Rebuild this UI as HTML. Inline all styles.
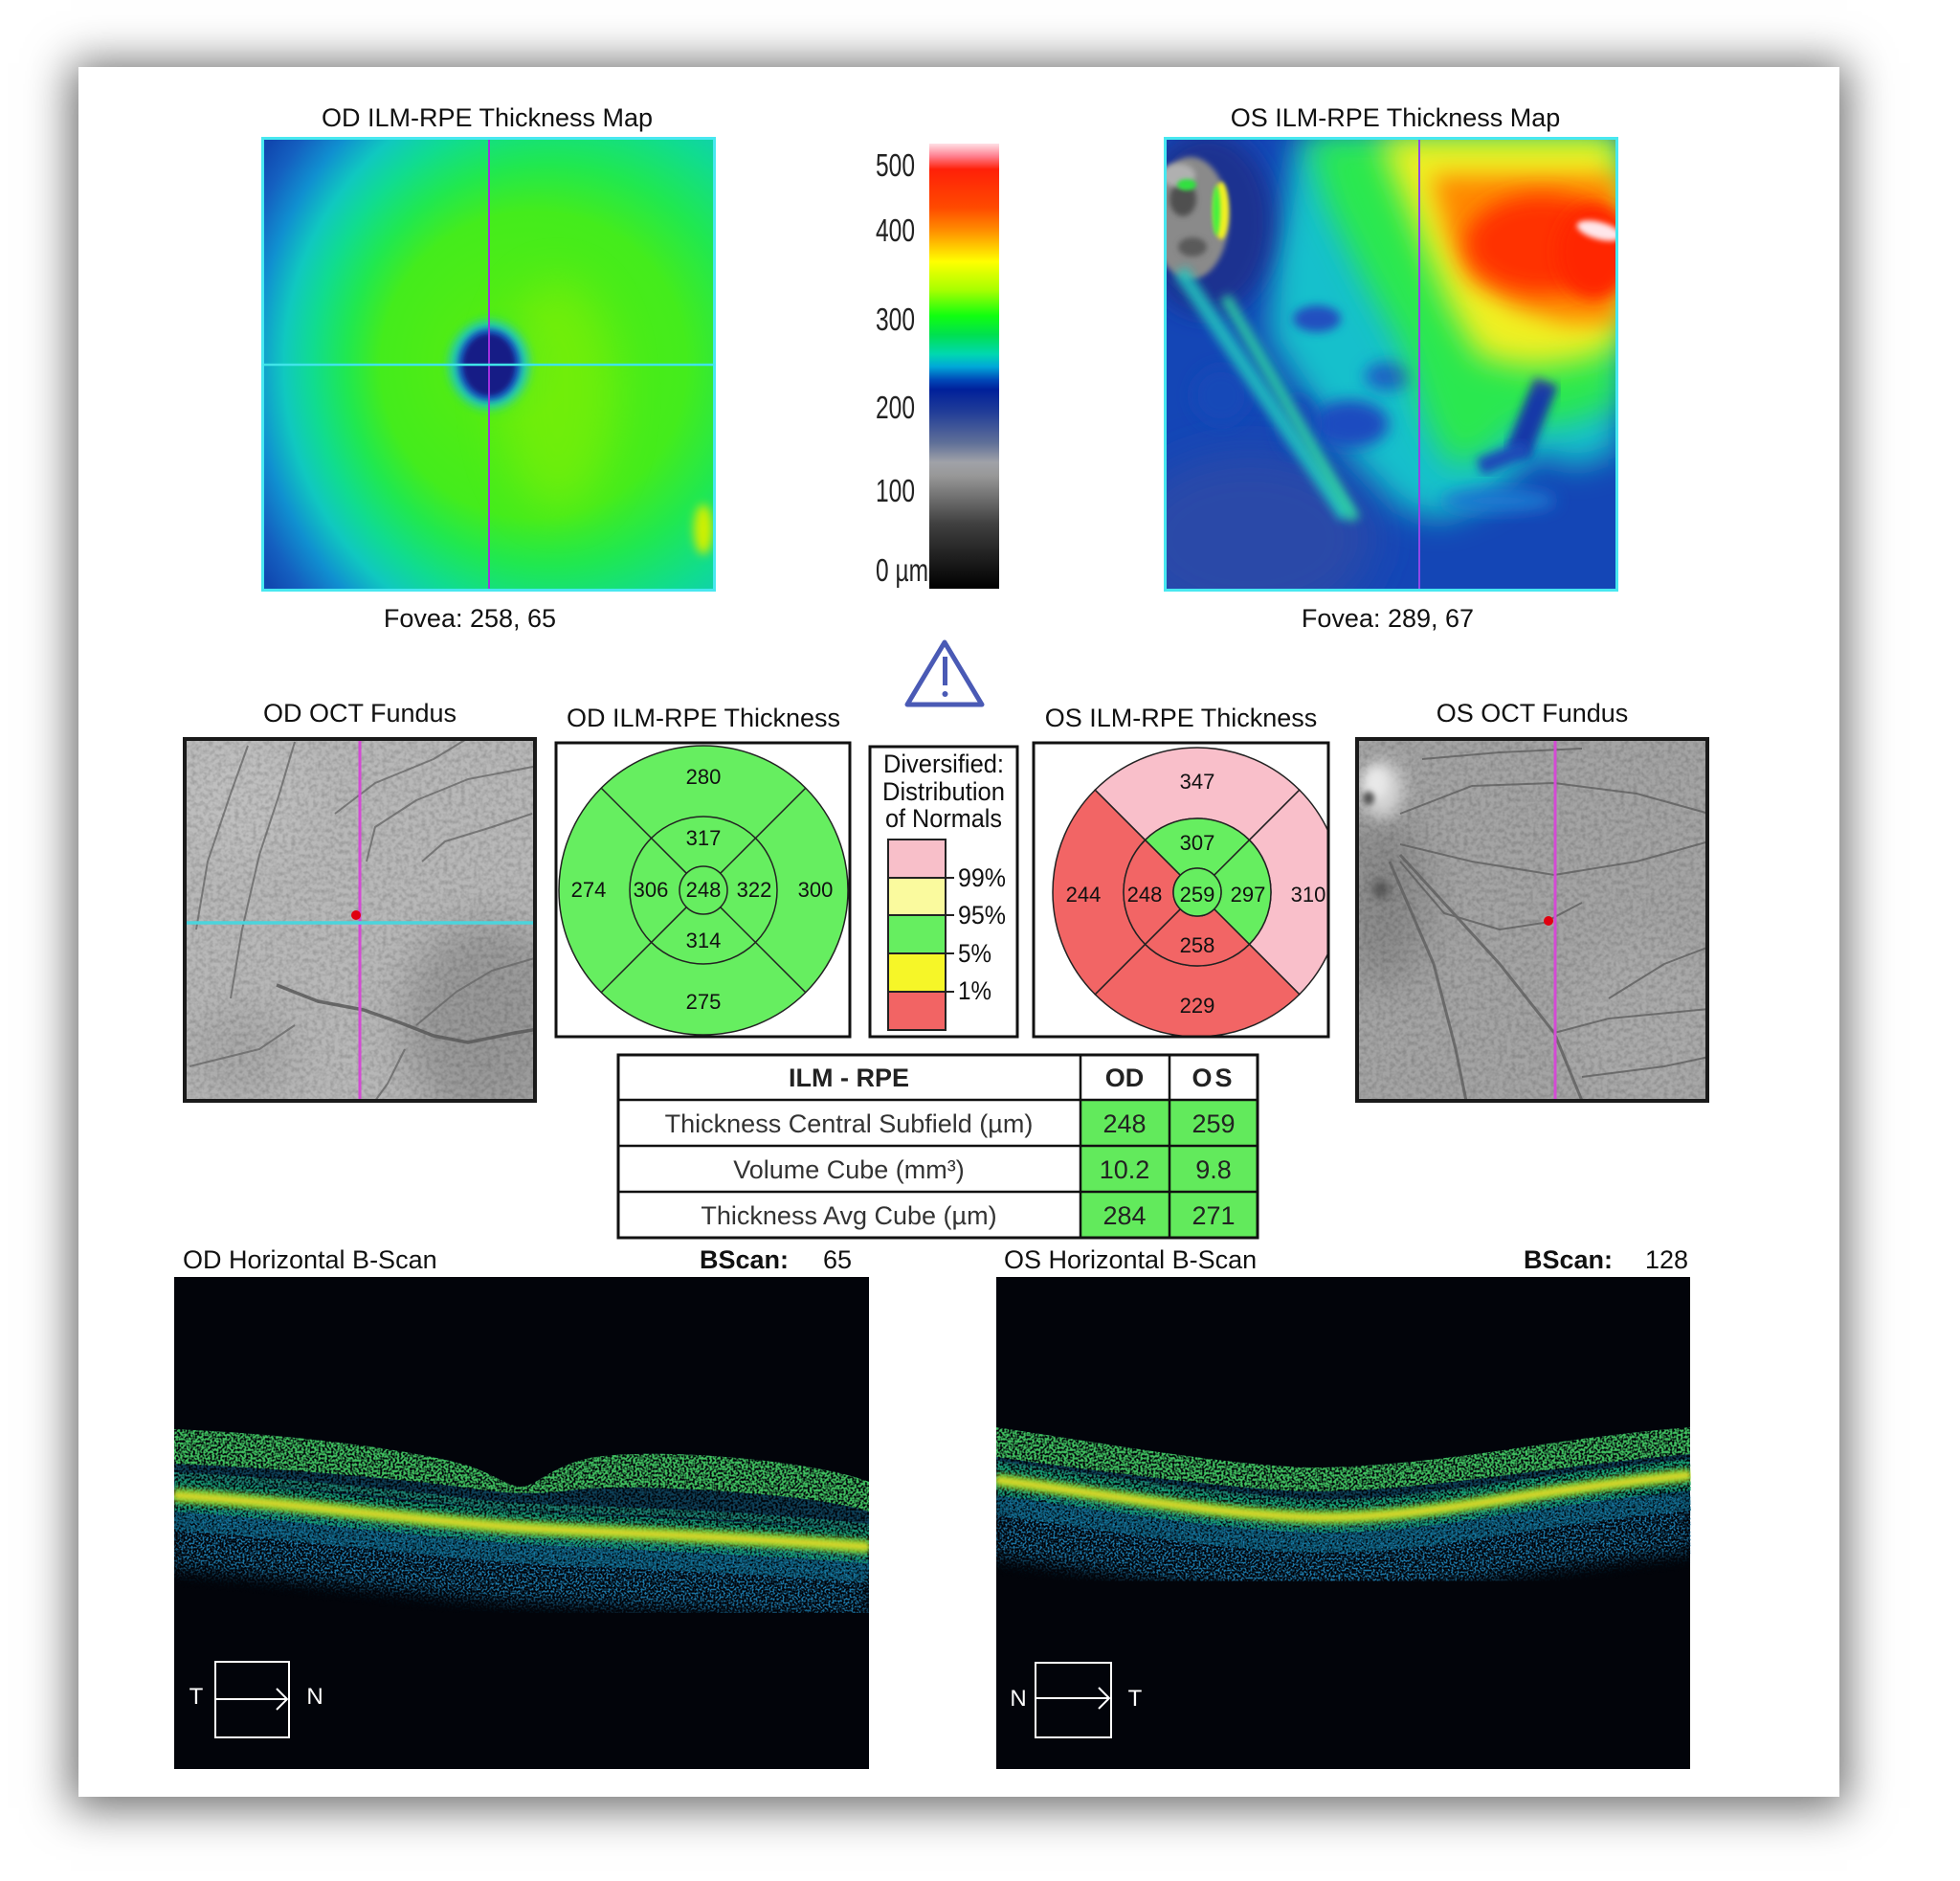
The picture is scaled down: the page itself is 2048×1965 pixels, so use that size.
<!DOCTYPE html>
<html><head><meta charset="utf-8"><style>
html,body{margin:0;padding:0;background:#fff;}
body{width:2048px;height:1965px;position:relative;overflow:hidden;}
#card{position:absolute;left:82px;top:70px;width:1840px;height:1807px;background:#fff;box-shadow:0 4px 44px 8px rgba(0,0,0,0.58);}
svg{position:absolute;left:0;top:0;}
text{font-family:"Liberation Sans",Arial,sans-serif;}
</style></head><body>
<div id="card"></div>
<svg width="2048" height="1965" viewBox="0 0 2048 1965" xmlns="http://www.w3.org/2000/svg">
<defs>
<filter id="b2" x="-50%" y="-50%" width="200%" height="200%"><feGaussianBlur stdDeviation="2"/></filter>
<filter id="b3" x="-50%" y="-50%" width="200%" height="200%"><feGaussianBlur stdDeviation="3"/></filter>
<filter id="b5" x="-50%" y="-50%" width="200%" height="200%"><feGaussianBlur stdDeviation="5"/></filter>
<filter id="b8" x="-50%" y="-50%" width="200%" height="200%"><feGaussianBlur stdDeviation="8"/></filter>
<filter id="b12" x="-50%" y="-50%" width="200%" height="200%"><feGaussianBlur stdDeviation="12"/></filter>
<filter id="b16" x="-50%" y="-50%" width="200%" height="200%"><feGaussianBlur stdDeviation="16"/></filter>
<filter id="b20" x="-50%" y="-50%" width="200%" height="200%"><feGaussianBlur stdDeviation="20"/></filter>
<filter id="b22" x="-50%" y="-50%" width="200%" height="200%"><feGaussianBlur stdDeviation="22"/></filter>
<filter id="grain" x="0" y="0" width="1" height="1">
 <feTurbulence type="fractalNoise" baseFrequency="0.22" numOctaves="2" seed="11"/>
 <feColorMatrix type="matrix" values="0 0 0 0 0  0 0 0 0 0  0 0 0 0 0  -1.0 0 0 0 0.62"/>
</filter>
<filter id="speck" x="0" y="0" width="1" height="1">
 <feTurbulence type="fractalNoise" baseFrequency="0.45" numOctaves="1" seed="7" result="n"/>
 <feColorMatrix in="n" type="matrix" values="0 0 0 0 1  0 0 0 0 1  0 0 0 0 1  0 0 0 4 -1.4" result="m"/>
 <feComposite in="SourceGraphic" in2="m" operator="in"/>
</filter>
<filter id="speck2" x="0" y="0" width="1" height="1">
 <feTurbulence type="fractalNoise" baseFrequency="0.5" numOctaves="1" seed="19" result="n"/>
 <feColorMatrix in="n" type="matrix" values="0 0 0 0 1  0 0 0 0 1  0 0 0 0 1  0 0 0 5 -2.2" result="m"/>
 <feComposite in="SourceGraphic" in2="m" operator="in"/>
</filter>
<radialGradient id="odgrad" gradientUnits="userSpaceOnUse" cx="360" cy="238" r="420" fx="238" fy="238">
 <stop offset="0" stop-color="#30e830"/>
 <stop offset="0.15" stop-color="#50ec14"/>
 <stop offset="0.38" stop-color="#44ec1c"/>
 <stop offset="0.5" stop-color="#20e850"/>
 <stop offset="0.62" stop-color="#10dc90"/>
 <stop offset="0.72" stop-color="#10c8c0"/>
 <stop offset="0.82" stop-color="#1090d0"/>
 <stop offset="0.92" stop-color="#1460c0"/>
 <stop offset="1" stop-color="#1048b0"/>
</radialGradient>
<linearGradient id="cbar" x1="0" y1="0" x2="0" y2="1">
 <stop offset="0" stop-color="#ffe0e6"/>
 <stop offset="0.028" stop-color="#ff8090"/>
 <stop offset="0.058" stop-color="#ff2008"/>
 <stop offset="0.144" stop-color="#ff4a00"/>
 <stop offset="0.194" stop-color="#ff8c00"/>
 <stop offset="0.265" stop-color="#ffff00"/>
 <stop offset="0.329" stop-color="#a8ff00"/>
 <stop offset="0.387" stop-color="#10ff10"/>
 <stop offset="0.43" stop-color="#00e050"/>
 <stop offset="0.473" stop-color="#00d8b0"/>
 <stop offset="0.501" stop-color="#00a8d8"/>
 <stop offset="0.531" stop-color="#0048b8"/>
 <stop offset="0.553" stop-color="#00209a"/>
 <stop offset="0.602" stop-color="#203c98"/>
 <stop offset="0.673" stop-color="#607098"/>
 <stop offset="0.716" stop-color="#a0a2a8"/>
 <stop offset="0.746" stop-color="#989898"/>
 <stop offset="0.854" stop-color="#404040"/>
 <stop offset="1" stop-color="#000000"/>
</linearGradient>
<clipPath id="mapclip"><rect x="0" y="0" width="475" height="475"/></clipPath>
<clipPath id="fclip"><rect x="0" y="0" width="370" height="382"/></clipPath>
<clipPath id="bclip"><rect x="0" y="0" width="726" height="514"/></clipPath>
<clipPath id="osboxclip"><rect x="1080" y="776" width="308" height="307"/></clipPath>
</defs>

<!-- ===== Top titles ===== -->
<g fill="#111" font-size="27" text-anchor="middle">
 <text x="509" y="132">OD ILM-RPE Thickness Map</text>
 <text x="1458" y="132">OS ILM-RPE Thickness Map</text>
 <text x="491" y="655">Fovea: 258, 65</text>
 <text x="1450" y="655">Fovea: 289, 67</text>
</g>

<!-- ===== OD map ===== -->
<g transform="translate(273,143)">
 <g clip-path="url(#mapclip)">
  <rect width="475" height="475" fill="url(#odgrad)"/>
  <ellipse cx="310" cy="270" rx="60" ry="120" fill="#90f000" opacity="0.5" filter="url(#b22)"/>
  <ellipse cx="462" cy="410" rx="10" ry="26" fill="#d0f000" filter="url(#b5)"/>
  <ellipse cx="238" cy="238" rx="42" ry="46" fill="#20c8b8" filter="url(#b5)"/>
  <ellipse cx="238" cy="238" rx="33" ry="38" fill="#1858b8" filter="url(#b3)"/>
  <ellipse cx="238" cy="238" rx="27" ry="32" fill="#161c86" filter="url(#b2)"/>
  <line x1="238" y1="0" x2="238" y2="475" stroke="#a030e0" stroke-width="2"/>
  <line x1="0" y1="238" x2="475" y2="238" stroke="#40e4e8" stroke-width="2.5"/>
 </g>
 <rect x="1.5" y="1.5" width="472" height="472" fill="none" stroke="#48e8f0" stroke-width="3"/>
</g>

<!-- ===== Color bar ===== -->
<rect x="971" y="150" width="73" height="465" fill="url(#cbar)"/>
<g fill="#222" font-size="33" text-anchor="end">
 <text x="956" y="184" textLength="41" lengthAdjust="spacingAndGlyphs">500</text>
 <text x="956" y="252" textLength="41" lengthAdjust="spacingAndGlyphs">400</text>
 <text x="956" y="345" textLength="41" lengthAdjust="spacingAndGlyphs">300</text>
 <text x="956" y="437" textLength="41" lengthAdjust="spacingAndGlyphs">200</text>
 <text x="956" y="524" textLength="41" lengthAdjust="spacingAndGlyphs">100</text>
</g>
<text x="915" y="607" fill="#222" font-size="33" textLength="55" lengthAdjust="spacingAndGlyphs">0 µm</text>

<!-- ===== OS map ===== -->
<g transform="translate(1216,143)">
 <g clip-path="url(#mapclip)">
  <rect width="475" height="475" fill="#1446b6"/>
  <ellipse cx="90" cy="420" rx="130" ry="90" fill="#2a48a8" filter="url(#b22)"/>
  <polygon points="140,0 475,0 475,330 430,345 390,330 340,380 290,400 250,390 200,340 150,270 110,210 115,120" fill="#18c0cc" filter="url(#b16)"/>
  <ellipse cx="160" cy="190" rx="25" ry="14" fill="#2050c0" filter="url(#b5)"/>
  <ellipse cx="195" cy="300" rx="40" ry="25" fill="#1a4cc0" filter="url(#b8)"/>
  <ellipse cx="140" cy="300" rx="20" ry="30" fill="#1848b8" filter="url(#b8)"/>
  <ellipse cx="235" cy="250" rx="25" ry="15" fill="#1c60c8" filter="url(#b8)"/>
  <ellipse cx="60" cy="270" rx="30" ry="30" fill="#1848b8" filter="url(#b8)"/>
  <polygon points="150,0 475,0 475,280 420,300 370,300 340,330 300,345 275,300 250,220 210,150 170,70" fill="#2ae850" filter="url(#b16)"/>
  <line x1="400" y1="255" x2="370" y2="330" stroke="#1438a8" stroke-width="26" filter="url(#b5)"/>
  <line x1="380" y1="325" x2="330" y2="345" stroke="#1a48b8" stroke-width="18" filter="url(#b5)"/>
  <polygon points="225,0 475,0 475,220 430,235 380,240 330,230 300,180 270,110 240,40" fill="#f0f020" filter="url(#b16)"/>
  <polygon points="280,40 475,40 475,195 420,195 370,180 320,150 295,100" fill="#ff8a00" filter="url(#b12)"/>
  <ellipse cx="395" cy="112" rx="80" ry="52" fill="#ff3000" filter="url(#b12)"/>
  <ellipse cx="450" cy="120" rx="40" ry="50" fill="#ff2800" filter="url(#b8)"/>
  <ellipse cx="455" cy="98" rx="24" ry="9" fill="#ffe6ea" filter="url(#b3)" transform="rotate(15 455 98)"/>
  <ellipse cx="45" cy="90" rx="70" ry="95" fill="#1a3090" filter="url(#b12)"/>
  <ellipse cx="28" cy="85" rx="40" ry="64" fill="#8a8a8a" filter="url(#b3)"/>
  <ellipse cx="20" cy="65" rx="14" ry="18" fill="#505050" filter="url(#b3)"/>
  <ellipse cx="30" cy="115" rx="15" ry="10" fill="#5a5a5a" filter="url(#b3)"/>
  <ellipse cx="15" cy="40" rx="18" ry="12" fill="#b0b0b0" filter="url(#b3)"/>
  <ellipse cx="24" cy="50" rx="10" ry="6" fill="#30e040" filter="url(#b2)"/>
  <ellipse cx="60" cy="77" rx="8" ry="30" fill="#f0f020" filter="url(#b2)"/>
  <ellipse cx="55" cy="77" rx="4" ry="26" fill="#40f040" filter="url(#b2)"/>
  <line x1="17" y1="140" x2="191" y2="397" stroke="#22c8c0" stroke-width="16" opacity="0.85" filter="url(#b5)"/>
  <line x1="64" y1="167" x2="200" y2="400" stroke="#30e0a0" stroke-width="12" opacity="0.8" filter="url(#b5)"/>
  <ellipse cx="350" cy="380" rx="60" ry="12" fill="#1a78d0" filter="url(#b8)"/>
  <line x1="267" y1="0" x2="267" y2="475" stroke="#9048e8" stroke-width="2"/>
 </g>
 <rect x="1.5" y="1.5" width="472" height="472" fill="none" stroke="#48e8f0" stroke-width="3"/>
</g>

<!-- ===== Warning ===== -->
<path d="M987,671 L1026,736 L948,736 Z" fill="none" stroke="#4a5ab5" stroke-width="5" stroke-linejoin="round"/>
<rect x="985" y="686" width="5" height="30" fill="#4a5ab5"/>
<circle cx="987.5" cy="725" r="3" fill="#4a5ab5"/>

<!-- ===== Middle titles ===== -->
<g fill="#111" font-size="27" text-anchor="middle">
 <text x="376" y="754">OD OCT Fundus</text>
 <text x="735" y="759">OD ILM-RPE Thickness</text>
 <text x="1234" y="759">OS ILM-RPE Thickness</text>
 <text x="1601" y="754">OS OCT Fundus</text>
</g>

<!-- ===== OD fundus ===== -->
<g transform="translate(191,770)">
 <g clip-path="url(#fclip)">
  <rect width="370" height="382" fill="#b8b8b8"/>
  <ellipse cx="60" cy="60" rx="70" ry="70" fill="#c6c6c6" opacity="0.5" filter="url(#b22)"/>
  <ellipse cx="320" cy="300" rx="90" ry="110" fill="#7a7a7a" opacity="0.5" filter="url(#b22)"/>
  <ellipse cx="60" cy="330" rx="60" ry="50" fill="#909090" opacity="0.35" filter="url(#b22)"/>
  <rect width="370" height="382" filter="url(#grain)" opacity="0.35"/>
  <g fill="none" stroke="#686868" stroke-width="2" stroke-linejoin="round" opacity="0.8">
   <polyline points="68,9 50,59 26,130 14,201"/>
   <polyline points="117,5 101,59 80,123 62,201 50,273"/>
   <polyline points="371,30 298,44 244,66 201,94 192,130"/>
   <polyline points="365,80 323,94 274,109 250,130"/>
   <polyline points="371,230 323,244 286,266 244,301"/>
   <polyline points="232,326 214,362 201,380"/>
   <polyline points="7,344 80,326 117,301"/>
   <polyline points="298,1 262,23 201,48 159,80"/>
   <polyline points="98,259 141,276 189,285 226,298 262,312 298,319 347,309 371,305" stroke="#555" stroke-width="3.5"/>
  </g>
  <line x1="185" y1="0" x2="185" y2="382" stroke="#d44ad4" stroke-width="3"/>
  <line x1="0" y1="194" x2="370" y2="194" stroke="#4cd4dc" stroke-width="3.5"/>
  <circle cx="181" cy="186" r="5" fill="#e00010"/>
 </g>
 <rect x="2" y="2" width="366" height="378" fill="none" stroke="#1a1a1a" stroke-width="4"/>
</g>

<!-- ===== OS fundus ===== -->
<g transform="translate(1416,770)">
 <g clip-path="url(#fclip)">
  <rect width="370" height="382" fill="#a4a4a4"/>
  <ellipse cx="30" cy="170" rx="45" ry="90" fill="#6a6a6a" opacity="0.45" filter="url(#b22)"/>
  <ellipse cx="300" cy="300" rx="80" ry="90" fill="#b4b4b4" opacity="0.4" filter="url(#b22)"/>
  <rect width="370" height="382" filter="url(#grain)" opacity="0.35"/>
  <circle cx="27" cy="159" r="9" fill="#505050" filter="url(#b5)"/>
  <ellipse cx="28" cy="55" rx="22" ry="30" fill="#d4d4d4" filter="url(#b8)"/>
  <ellipse cx="22" cy="48" rx="12" ry="16" fill="#e8e8e8" filter="url(#b5)"/>
  <ellipse cx="14" cy="64" rx="6" ry="7" fill="#555" filter="url(#b3)"/>
  <g fill="none" stroke="#5e5e5e" stroke-width="2" stroke-linejoin="round" opacity="0.8">
   <polyline points="47,80 122,51 208,48 294,59 370,80"/>
   <polyline points="47,112 122,130 208,144 294,130 370,109"/>
   <polyline points="47,130 93,184 151,201 197,194 237,173"/>
   <polyline points="36,130 82,237 105,326 116,380" stroke-width="3"/>
   <polyline points="47,123 151,237 208,309 237,380" stroke-width="3"/>
   <polyline points="208,309 265,294 370,284"/>
   <polyline points="237,355 323,344 370,334"/>
   <polyline points="265,273 323,237 370,219"/>
   <polyline points="70,23 151,16 237,12"/>
  </g>
  <line x1="209" y1="0" x2="209" y2="382" stroke="#d44ad4" stroke-width="3"/>
  <circle cx="202" cy="192" r="5" fill="#e00010"/>
 </g>
 <rect x="2" y="2" width="366" height="378" fill="none" stroke="#1a1a1a" stroke-width="4"/>
</g>

<!-- ===== OD thickness circle ===== -->
<rect x="581" y="776" width="307" height="307" fill="#fff" stroke="#111" stroke-width="3"/>
<g transform="translate(735,930)" stroke="#222" stroke-width="1.5">
 <circle r="151" fill="#66ee60"/>
 <circle r="77" fill="none"/>
 <circle r="25" fill="none"/>
 <line x1="-17.68" y1="-17.68" x2="-106.77" y2="-106.77"/>
 <line x1="17.68" y1="-17.68" x2="106.77" y2="-106.77"/>
 <line x1="17.68" y1="17.68" x2="106.77" y2="106.77"/>
 <line x1="-17.68" y1="17.68" x2="-106.77" y2="106.77"/>
</g>
<g transform="translate(735,930)" fill="#111" font-size="22" text-anchor="middle">
 <text x="0" y="-111">280</text>
 <text x="0" y="-47">317</text>
 <text x="0" y="7">248</text>
 <text x="0" y="60">314</text>
 <text x="0" y="124">275</text>
 <text x="-120" y="7">274</text>
 <text x="-55" y="7">306</text>
 <text x="53" y="7">322</text>
 <text x="117" y="7">300</text>
</g>

<!-- ===== Legend ===== -->
<rect x="909" y="780" width="154" height="303" fill="#fff" stroke="#111" stroke-width="3"/>
<g fill="#111" font-size="27" text-anchor="middle">
 <text x="986" y="807" textLength="126" lengthAdjust="spacingAndGlyphs">Diversified:</text>
 <text x="986" y="836" textLength="128" lengthAdjust="spacingAndGlyphs">Distribution</text>
 <text x="986" y="864" textLength="122" lengthAdjust="spacingAndGlyphs">of Normals</text>
</g>
<rect x="928" y="877" width="60" height="40" fill="#f8bfc9"/>
<rect x="928" y="917" width="60" height="39" fill="#fafa9e"/>
<rect x="928" y="956" width="60" height="40" fill="#66ee60"/>
<rect x="928" y="996" width="60" height="40" fill="#f6f628"/>
<rect x="928" y="1036" width="60" height="40" fill="#f26464"/>
<rect x="928" y="877" width="60" height="199" fill="none" stroke="#222" stroke-width="2"/>
<g stroke="#222" stroke-width="2">
 <line x1="928" y1="917" x2="997" y2="917"/>
 <line x1="928" y1="956" x2="997" y2="956"/>
 <line x1="928" y1="996" x2="997" y2="996"/>
 <line x1="928" y1="1036" x2="997" y2="1036"/>
</g>
<g fill="#111" font-size="27">
 <text x="1001" y="926" textLength="50" lengthAdjust="spacingAndGlyphs">99%</text>
 <text x="1001" y="965" textLength="50" lengthAdjust="spacingAndGlyphs">95%</text>
 <text x="1001" y="1005" textLength="35" lengthAdjust="spacingAndGlyphs">5%</text>
 <text x="1001" y="1044" textLength="35" lengthAdjust="spacingAndGlyphs">1%</text>
</g>

<!-- ===== OS thickness circle ===== -->
<rect x="1080" y="776" width="308" height="307" fill="#fff"/>
<g clip-path="url(#osboxclip)">
<g transform="translate(1251,932)" stroke="#222" stroke-width="1.5">
 <path d="M-106.77,-106.77 A151,151 0 0 1 106.77,-106.77 L54.45,-54.45 A77,77 0 0 0 -54.45,-54.45 Z" fill="#f9bfca"/>
 <path d="M106.77,-106.77 A151,151 0 0 1 106.77,106.77 L54.45,54.45 A77,77 0 0 0 54.45,-54.45 Z" fill="#f9bfca"/>
 <path d="M106.77,106.77 A151,151 0 0 1 -106.77,106.77 L-54.45,54.45 A77,77 0 0 0 54.45,54.45 Z" fill="#f26565"/>
 <path d="M-106.77,106.77 A151,151 0 0 1 -106.77,-106.77 L-54.45,-54.45 A77,77 0 0 0 -54.45,54.45 Z" fill="#f26565"/>
 <path d="M-54.45,-54.45 A77,77 0 0 1 54.45,-54.45 L17.68,-17.68 A25,25 0 0 0 -17.68,-17.68 Z" fill="#66ee60"/>
 <path d="M54.45,-54.45 A77,77 0 0 1 54.45,54.45 L17.68,17.68 A25,25 0 0 0 17.68,-17.68 Z" fill="#66ee60"/>
 <path d="M54.45,54.45 A77,77 0 0 1 -54.45,54.45 L-17.68,17.68 A25,25 0 0 0 17.68,17.68 Z" fill="#f26565"/>
 <path d="M-54.45,54.45 A77,77 0 0 1 -54.45,-54.45 L-17.68,-17.68 A25,25 0 0 0 -17.68,17.68 Z" fill="#f26565"/>
 <circle r="25" fill="#66ee60"/>
</g>
<g transform="translate(1251,932)" fill="#111" font-size="22" text-anchor="middle">
 <text x="0" y="-108">347</text>
 <text x="0" y="-44">307</text>
 <text x="0" y="10">259</text>
 <text x="0" y="63">258</text>
 <text x="0" y="126">229</text>
 <text x="-119" y="10">244</text>
 <text x="-55" y="10">248</text>
 <text x="53" y="10">297</text>
 <text x="116" y="10">310</text>
</g>
</g>
<rect x="1080" y="776" width="308" height="307" fill="none" stroke="#111" stroke-width="3"/>

<!-- ===== Table ===== -->
<rect x="646" y="1102" width="668" height="191" fill="#fff"/>
<rect x="1129" y="1149" width="185" height="144" fill="#62ea5c"/>
<g stroke="#111" stroke-width="2.5">
 <line x1="646" y1="1149" x2="1314" y2="1149"/>
 <line x1="646" y1="1197" x2="1314" y2="1197"/>
 <line x1="646" y1="1245" x2="1314" y2="1245"/>
 <line x1="1129" y1="1102" x2="1129" y2="1293"/>
 <line x1="1222" y1="1102" x2="1222" y2="1293"/>
</g>
<rect x="646" y="1102" width="668" height="191" fill="none" stroke="#111" stroke-width="3"/>
<g fill="#222" font-size="27" text-anchor="middle">
 <text x="887" y="1135" font-weight="bold">ILM - RPE</text>
 <text x="1175" y="1135" font-weight="bold">OD</text>
 <text x="1268" y="1135" font-weight="bold" letter-spacing="3">OS</text>
 <text x="887" y="1183" fill="#333">Thickness Central Subfield (µm)</text>
 <text x="887" y="1231" fill="#333">Volume Cube (mm³)</text>
 <text x="887" y="1279" fill="#333">Thickness Avg Cube (µm)</text>
 <text x="1175" y="1183">248</text>
 <text x="1268" y="1183">259</text>
 <text x="1175" y="1231">10.2</text>
 <text x="1268" y="1231">9.8</text>
 <text x="1175" y="1279">284</text>
 <text x="1268" y="1279">271</text>
</g>

<!-- ===== B-scan titles ===== -->
<g fill="#111" font-size="27">
 <text x="191" y="1325">OD Horizontal B-Scan</text>
 <text x="731" y="1325" font-weight="bold">BScan:</text>
 <text x="890" y="1325" text-anchor="end">65</text>
 <text x="1049" y="1325">OS Horizontal B-Scan</text>
 <text x="1592" y="1325" font-weight="bold">BScan:</text>
 <text x="1764" y="1325" text-anchor="end">128</text>
</g>

<!-- ===== OD B-scan ===== -->
<g transform="translate(182,1334)">
 <rect width="726" height="514" fill="#02040a"/>
 <g clip-path="url(#bclip)">
  <g filter="url(#speck2)">
   <rect width="726" height="514" fill="none"/>
   <path d="M0,228 C120,236 260,255 363,262 C450,267 560,270 726,282" transform="translate(0,42)" stroke="#1a78a8" stroke-width="70" fill="none" filter="url(#b8)"/>
  </g>
  <g filter="url(#speck)">
   <rect width="726" height="514" fill="none"/>
   <path d="M0,228 C120,236 260,255 363,262 C450,267 560,270 726,282" transform="translate(0,22)" stroke="#0e6a8a" stroke-width="30" fill="none" opacity="0.8"/>
   <path d="M0,159 C120,164 250,180 310,198 C335,207 350,219 363,219 C378,219 395,196 440,188 C500,180 600,188 660,198 C690,203 710,208 726,214 L726,282 C560,270 450,267 363,262 C260,255 120,236 0,228 Z" fill="#0d4058"/>
   <path d="M0,159 C120,164 250,180 310,198 C335,207 350,219 363,219 C378,219 395,196 440,188 C500,180 600,188 660,198 C690,203 710,208 726,214 L726,245 C710,240 690,236 660,232 C600,224 480,216 420,222 C380,228 345,226 320,222 C250,212 120,200 0,195 Z" fill="#40c060"/>
   <path d="M0,208 C120,214 250,228 330,238 C400,244 560,244 726,262" stroke="#1a8070" stroke-width="8" fill="none"/>
   <path d="M0,228 C120,236 260,255 363,262 C450,267 560,270 726,282" stroke="#18a878" stroke-width="34" fill="none" opacity="0.8"/>
  </g>
  <path d="M0,228 C120,236 260,255 363,262 C450,267 560,270 726,282" stroke="#98d830" stroke-width="15" fill="none" opacity="0.9" filter="url(#b3)"/>
  <path d="M0,228 C120,236 260,255 363,262 C450,267 560,270 726,282" stroke="#e8d828" stroke-width="5" fill="none" opacity="0.9" filter="url(#b2)"/>
 </g>
</g>
<g stroke="#fff" stroke-width="2" fill="none">
 <rect x="225" y="1736" width="77" height="79"/>
 <line x1="225" y1="1775" x2="300" y2="1775"/>
 <polyline points="289,1764 300,1775 289,1786"/>
</g>
<g fill="#fff" font-size="24" text-anchor="middle">
 <text x="205" y="1780">T</text>
 <text x="329" y="1780">N</text>
</g>

<!-- ===== OS B-scan ===== -->
<g transform="translate(1041,1334)">
 <rect width="725" height="514" fill="#02040a"/>
 <g clip-path="url(#bclip)">
  <g filter="url(#speck2)">
   <rect width="726" height="514" fill="none"/>
   <path d="M0,212 C120,228 230,248 330,251 C430,253 520,232 600,222 C650,215 690,210 725,207" transform="translate(0,44)" stroke="#1a78a8" stroke-width="72" fill="none" filter="url(#b8)"/>
  </g>
  <g filter="url(#speck)">
   <rect width="726" height="514" fill="none"/>
   <path d="M0,212 C120,228 230,248 330,251 C430,253 520,232 600,222 C650,215 690,210 725,207" transform="translate(0,22)" stroke="#0e6a8a" stroke-width="30" fill="none" opacity="0.8"/>
   <path d="M0,157 C100,172 250,198 330,199 C420,199 520,182 620,168 C670,162 700,159 725,157 L725,207 C690,210 650,215 600,222 C520,232 430,253 330,251 C230,248 120,228 0,212 Z" fill="#0d4058"/>
   <path d="M0,157 C100,172 250,198 330,199 C420,199 520,182 620,168 C670,162 700,159 725,157 L725,185 C700,187 670,190 620,196 C520,208 420,224 330,224 C250,222 100,202 0,188 Z" fill="#40c060"/>
   <path d="M0,196 C100,210 250,232 330,236 C420,238 520,218 620,206 C670,200 700,196 725,194" stroke="#1a8070" stroke-width="8" fill="none"/>
   <path d="M0,212 C120,228 230,248 330,251 C430,253 520,232 600,222 C650,215 690,210 725,207" stroke="#18a878" stroke-width="32" fill="none" opacity="0.8"/>
  </g>
  <path d="M0,212 C120,228 230,248 330,251 C430,253 520,232 600,222 C650,215 690,210 725,207" stroke="#98d830" stroke-width="14" fill="none" opacity="0.9" filter="url(#b3)"/>
  <path d="M0,212 C120,228 230,248 330,251 C430,253 520,232 600,222 C650,215 690,210 725,207" stroke="#e8d828" stroke-width="5" fill="none" opacity="0.9" filter="url(#b2)"/>
 </g>
</g>
<g stroke="#fff" stroke-width="2" fill="none">
 <rect x="1082" y="1737" width="79" height="78"/>
 <line x1="1082" y1="1774" x2="1159" y2="1774"/>
 <polyline points="1148,1763 1159,1774 1148,1785"/>
</g>
<g fill="#fff" font-size="24" text-anchor="middle">
 <text x="1064" y="1782">N</text>
 <text x="1186" y="1782">T</text>
</g>
</svg>
</body></html>
